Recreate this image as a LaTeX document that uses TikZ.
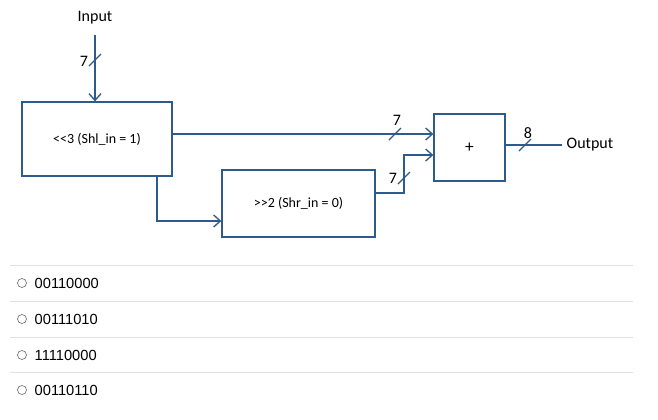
\documentclass[tikz,border=0pt]{standalone}
\usepackage{fontspec}
\setmainfont{Carlito}[Ligatures=NoCommon]
\newfontfamily\optf{Liberation Sans}
\usetikzlibrary{arrows.meta}
\definecolor{ln}{HTML}{2F5A8C}
\begin{document}
\begin{tikzpicture}[x=0.75pt,y=-0.75pt,
  blk/.style={draw=ln,line width=1pt,fill=white,inner sep=0pt},
  wire/.style={draw=ln,line width=1pt},
  arr/.style={wire,-{Straight Barb[length=5pt,width=9pt]}},
  lbl/.style={font=\fontsize{10.5}{12}\selectfont},
  opt/.style={font=\optf\fontsize{11}{13}\selectfont,anchor=west},
  sep/.style={draw=black!12,line width=0.6pt}]
\useasboundingbox (0,0) rectangle (658,419);
\node[font=\fontsize{12}{14}\selectfont] (in) at (95,18) {Input};
\node[blk,minimum width=150*0.75pt,minimum height=74*0.75pt,lbl] (b1) at (97,139) {{<}{<}3 (Shl\_in = 1)};
\node[blk,minimum width=153*0.75pt,minimum height=67*0.75pt,lbl] (b2) at (298.5,203.5) {{>}{>}2 (Shr\_in = 0)};
\node[blk,minimum width=71*0.75pt,minimum height=67*0.75pt,font=\fontsize{13}{15}\selectfont] (add) at (469.5,147.5) {+};
\node[font=\fontsize{12}{14}\selectfont,anchor=west] (out) at (562,145) {Output};
\coordinate (t) at (95,35);
\draw[arr] (t) -- (b1.north -| t);
\draw[wire] (89,66) -- (101,54);
\node[font=\fontsize{12}{14}\selectfont] (n1) at (84,61) {7};
\draw[arr] (b1.east |- 0,134) -- (add.west |- 0,134);
\draw[wire] (389,140) -- (401,128);
\node[font=\fontsize{12}{14}\selectfont] (n2) at (397,120) {7};
\draw[arr] (b1.south -| 157,0) -- (157,221) -- (b2.west |- 0,221);
\draw[arr] (b2.east |- 0,193) -- (404,193) -- (404,155) -- (add.west |- 0,155);
\draw[wire] (398,184) -- (410,172);
\node[font=\fontsize{12}{14}\selectfont] (n3) at (393,178) {7};
\draw[wire] (add.east |- 0,145) -- (out.west);
\draw[wire] (519,151) -- (531,139);
\node[font=\fontsize{12}{14}\selectfont] (n4) at (528,133) {8};
\foreach \y/\t [count=\i] in {283/00110000,319/00111010,355/11110000,390/00110110}{
  \draw[sep] (10,\y-18) -- (633,\y-18);
  \draw[black!55,line width=0.5pt] (22,\y) circle (4.5);
  \node[opt] (o\i) at (30,\y) {\t};
}
\end{tikzpicture}
\end{document}
